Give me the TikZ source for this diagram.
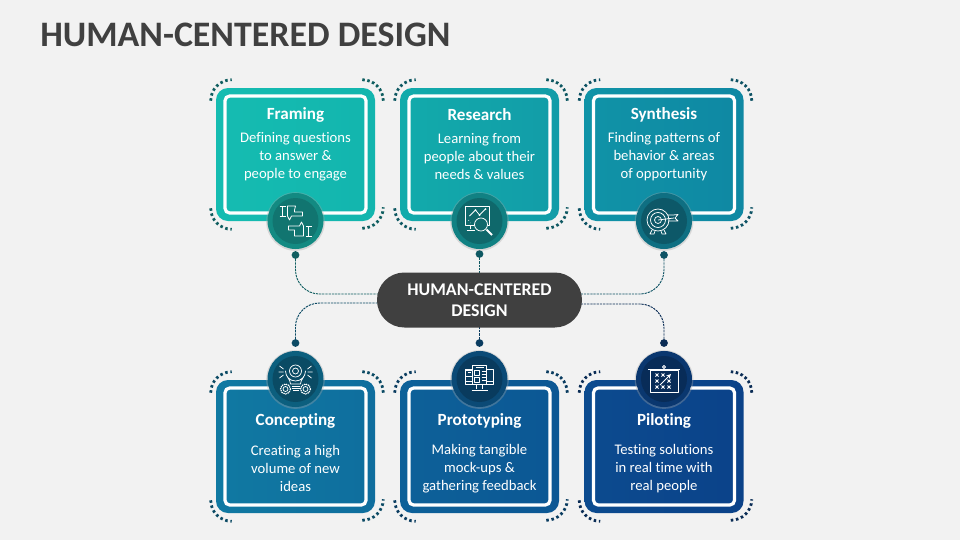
\documentclass[tikz,border=0pt]{standalone}
\usepackage{fontspec}
\setmainfont[Ligatures=NoCommon]{Carlito}
\definecolor{pagebg}{HTML}{F2F2F2}
\definecolor{titlegrey}{HTML}{404040}
\definecolor{hubgrey}{HTML}{404040}
\definecolor{frameL}{HTML}{15BCB1}\definecolor{frameR}{HTML}{13B5AE}
\definecolor{resL}{HTML}{12ABAB}\definecolor{resR}{HTML}{129CA8}
\definecolor{synL}{HTML}{1093A7}\definecolor{synR}{HTML}{0F88A3}
\definecolor{conL}{HTML}{1079A2}\definecolor{conR}{HTML}{0F6E9E}
\definecolor{proL}{HTML}{0D6199}\definecolor{proR}{HTML}{0C5794}
\definecolor{pilL}{HTML}{0C4B8F}\definecolor{pilR}{HTML}{0B4289}
\definecolor{frameO}{HTML}{138A82}\definecolor{frameI}{HTML}{117570}
\definecolor{resO}{HTML}{118183}\definecolor{resI}{HTML}{0F686B}
\definecolor{synO}{HTML}{0F6F82}\definecolor{synI}{HTML}{0D5868}
\definecolor{conO}{HTML}{0C5F7E}\definecolor{conI}{HTML}{0A4B64}
\definecolor{proO}{HTML}{0B4A76}\definecolor{proI}{HTML}{093B5E}
\definecolor{pilO}{HTML}{0A376F}\definecolor{pilI}{HTML}{082C58}
\definecolor{frameD}{HTML}{0F5E60}\definecolor{resD}{HTML}{0E5862}
\definecolor{synD}{HTML}{0D5264}\definecolor{conD}{HTML}{0B4A64}
\definecolor{proD}{HTML}{0A3C60}\definecolor{pilD}{HTML}{0A2C55}
\tikzset{
  boxouter/.style={minimum width=119.25pt,minimum height=99.75pt,inner sep=0pt,rounded corners=9pt,shading angle=90},
  boxinner/.style={minimum width=105.75pt,minimum height=87.75pt,inner sep=0pt,rounded corners=3.5pt,draw=white,line width=2.4pt},
  headtext/.style={text=white,font=\fontsize{12.8}{15}\selectfont\bfseries,inner sep=0pt},
  bodytext/.style={text=white,font=\fontsize{11}{13.5}\selectfont,align=center,inner sep=0pt},
  ringouter/.style={circle,minimum size=42pt,inner sep=0pt},
  ringinner/.style={circle,minimum size=34.5pt,inner sep=0pt},
  ringshade/.style={circle,inner sep=0pt,fill=black!35,opacity=.35,minimum size=44pt},
  linkdot/.style={circle,minimum size=5.8pt,inner sep=0pt},
  linkline/.style={line width=0.7pt,dash pattern=on 1.7pt off 0.7pt,rounded corners=18pt},
  cornerdots/.style={line width=2.1pt,dash pattern=on 1.9pt off 2.05pt},
  cornerfull/.style={line width=2.1pt,dash pattern=on 1.9pt off 1.9pt},
  iconline/.style={draw=white,line width=0.55pt,line join=round},
}
\newcommand{\cornerset}[2]{
  \draw[cornerdots,#2] ([xshift=-3.75pt,yshift=-9.75pt]#1.north west) arc (180:90:15.75pt);
  \draw[cornerfull,#2] ([xshift=-9.75pt,yshift=6pt]#1.north east) arc (90:0:15.75pt);
  \draw[cornerdots,#2] ([xshift=-3.75pt,yshift=9.75pt]#1.south west) arc (180:270:15.75pt);
  \draw[cornerdots,#2] ([xshift=-9.75pt,yshift=-5.25pt]#1.south east) arc (270:360:15.75pt);
}
\begin{document}
\begin{tikzpicture}[x=0.75pt,y=-0.75pt]
  \useasboundingbox[fill=pagebg] (0,0) rectangle (960,540);
  \node[anchor=west,inner sep=0pt,text=titlegrey,font=\fontsize{26.9}{30}\selectfont\bfseries] (title) at (40,35) {HUMAN-CENTERED DESIGN};
  \node[boxouter,left color=frameL,right color=frameR] (frame) at (295.5,154.5) {};
  \node[boxouter,left color=resL,right color=resR] (res) at (479.5,154.5) {};
  \node[boxouter,left color=synL,right color=synR] (syn) at (664,154.5) {};
  \node[boxouter,left color=conL,right color=conR] (con) at (295.5,446.5) {};
  \node[boxouter,left color=proL,right color=proR] (pro) at (479.5,446.5) {};
  \node[boxouter,left color=pilL,right color=pilR] (pil) at (664,446.5) {};
  \node[boxinner] (frameb) at (frame) {};
  \node[boxinner] (resb) at (res) {};
  \node[boxinner] (synb) at (syn) {};
  \node[boxinner] (conb) at (con) {};
  \node[boxinner] (prob) at (pro) {};
  \node[boxinner] (pilb) at (pil) {};
  \cornerset{frame}{frameD}
  \cornerset{res}{resD}
  \cornerset{syn}{synD}
  \cornerset{con}{conD}
  \cornerset{pro}{proD}
  \cornerset{pil}{pilD}
  \node[headtext] (framehead) at (295.5,115) {Framing};
  \node[headtext] (reshead) at (479.5,115) {Research};
  \node[headtext] (synhead) at (664,115) {Synthesis};
  \node[headtext] (conhead) at (295.5,421) {Concepting};
  \node[headtext] (prohead) at (479.5,421) {Prototyping};
  \node[headtext] (pilhead) at (664,421) {Piloting};
  \node[bodytext] (frametext) at (295.5,157) {Defining questions\\to answer \&\\people to engage};
  \node[bodytext] (restext) at (479.5,157) {Learning from\\people about their\\needs \& values};
  \node[bodytext] (syntext) at (664,157) {Finding patterns of\\behavior \& areas\\of opportunity};
  \node[bodytext] (context) at (295.5,468.5) {Creating a high\\volume of new\\ideas};
  \node[bodytext] (protext) at (479.5,468.5) {Making tangible\\mock-ups \&\\gathering feedback};
  \node[bodytext] (piltext) at (664,468.5) {Testing solutions\\in real time with\\real people};
  \node[linkdot,fill=frameD] (framedot) at (295.5,255) {};
  \node[linkdot,fill=resD] (resdot) at (479.5,254) {};
  \node[linkdot,fill=synD] (syndot) at (664,255) {};
  \node[linkdot,fill=conD] (condot) at (295.5,343) {};
  \node[linkdot,fill=proD] (prodot) at (479.5,343) {};
  \node[linkdot,fill=pilD] (pildot) at (664,343) {};
  \coordinate (hubnw) at (385,294);
  \coordinate (hubne) at (575,294);
  \coordinate (hubsw) at (385,303);
  \coordinate (hubse) at (575,304);
  \draw[linkline,frameD] (framedot) |- (hubnw);
  \draw[linkline,synD] (syndot) |- (hubne);
  \draw[linkline,conD] (condot) |- (hubsw);
  \draw[linkline,pilD] (pildot) |- (hubse);
  \draw[linkline,resD] (resdot) -- (479.5,280);
  \draw[linkline,proD] (prodot) -- (479.5,320);
  \node[rounded corners=20.5pt,minimum width=153.75pt,minimum height=41.25pt,inner sep=0pt,fill=hubgrey,text=white,align=center,font=\fontsize{13.4}{15.75}\selectfont\bfseries] (hub) at (479.5,300) {HUMAN-CENTERED\\DESIGN};
  \node[ringshade] (frameshade) at (295.5,221.5) {};
  \node[ringshade] (resshade) at (479.5,221.5) {};
  \node[ringshade] (synshade) at (664,221.5) {};
  \node[ringshade] (conshade) at (295.5,379.5) {};
  \node[ringshade] (proshade) at (479.5,379.5) {};
  \node[ringshade] (pilshade) at (664,379.5) {};
  \node[ringouter,fill=frameO] (framering) at (295.5,221) {};
  \node[ringouter,fill=resO] (resring) at (479.5,221) {};
  \node[ringouter,fill=synO] (synring) at (664,221) {};
  \node[ringouter,fill=conO] (conring) at (295.5,379) {};
  \node[ringouter,fill=proO] (proring) at (479.5,379) {};
  \node[ringouter,fill=pilO] (pilring) at (664,379) {};
  \node[ringinner,fill=frameI] (framecore) at (framering) {};
  \node[ringinner,fill=resI] (rescore) at (resring) {};
  \node[ringinner,fill=synI] (syncore) at (synring) {};
  \node[ringinner,fill=conI] (concore) at (conring) {};
  \node[ringinner,fill=proI] (procore) at (proring) {};
  \node[ringinner,fill=pilI] (pilcore) at (pilring) {};
  \begin{scope}[shift={(295.5,221)},iconline]
    \draw (-16,-15) -- (-10,-15) (-13,-15) -- (-13,-5) (-16,-5) -- (-10,-5);
    \draw (-8,-15) -- (0,-15) -- (-1,-11) -- (-1,-9) -- (7,-9) -- (7,-5) -- (-4,-5) -- (-6,-1) -- (-8,-5) -- cycle;
    \draw (16,15) -- (10,15) (13,15) -- (13,5) (16,5) -- (10,5);
    \draw (8,15) -- (-1,15) -- (-1,11) -- (-1,9) -- (-7,9) -- (-7,5) -- (4,5) -- (6,1) -- (8,5) -- cycle;
  \end{scope}
  \begin{scope}[shift={(479.5,221)},iconline]
    \draw (-14.5,-14.5) rectangle (10,4);
    \draw (-9,4) -- (-9,8) (-13,9) -- (-5,9);
    \draw (-10,-5) -- (-4,-11) -- (0,-6) -- (6,-12);
    \fill[white] (-4,-11) circle (1) (0,-6) circle (1) (6,-12) circle (1);
    \draw[dotted] (-11,-1) -- (-9,2);
    \draw[fill=resI] (1.5,3.5) circle (6.5);
    \draw[line width=1.5pt] (7,8.5) -- (12.5,14);
  \end{scope}
  \begin{scope}[shift={(664,221)},iconline]
    \draw (-6,-1) circle (11) (-6,-1) circle (7.5) (-6,-1) circle (3.5);
    \draw (-6,-1) -- (10,-3);
    \draw (4,-6) -- (9,-6) -- (14,-6.5) -- (11,-3) -- (14,0) -- (9,0) -- (4,0);
    \draw (-12,9) -- (-14,13) -- (-10,13) -- (-9,10);
    \draw (0,9) -- (2,13) -- (-2,13) -- (-3,10);
  \end{scope}
  \begin{scope}[shift={(295.5,379)},iconline]
    \draw (-5,5) .. controls (-5,0) and (-10,-2) .. (-10,-8) arc (180:0:10) .. controls (10,-2) and (5,0) .. (5,5) -- cycle;
    \draw (0,-8) circle (6) (0,-8) circle (3);
    \draw (-4,7) -- (4,7) (-4,9) -- (4,9) (-3,11) -- (3,11);
    \draw (-16,-13) -- (-12,-10) (-17,-7) -- (-12,-7) (-16,-1) -- (-12,-4);
    \draw (16,-13) -- (12,-10) (17,-7) -- (12,-7) (16,-1) -- (12,-4);
    \draw[dash pattern=on 1pt off 0.6pt,line width=0.9pt] (-10,10) circle (5) (10,10) circle (5);
    \draw (-10,10) circle (2.5) (10,10) circle (2.5);
  \end{scope}
  \begin{scope}[shift={(479.5,379)},iconline]
    \draw (-14,-10) rectangle (14,5);
    \draw (-14,2) -- (14,2) (-3,5) -- (-3,10) (3,5) -- (3,10) (-8,11) -- (8,11);
    \draw[fill=proI] (-7,-14) rectangle (7,5);
    \draw[fill=proI] (-14,-9) rectangle (-7,-3);
    \draw (-5,-9) rectangle (0,-4) (-5,-2) rectangle (0,3);
    \draw (2,-8) -- (6,-8) (2,-5) -- (6,-5) (2,-2) -- (6,-2) (2,1) -- (6,1);
    \draw (-4,-12) -- (4,-12) (-12,-7) -- (-9,-7);
  \end{scope}
  \begin{scope}[shift={(664,379)},iconline]
    \draw (0,-12) circle (1.5);
    \draw (-16,-9.5) -- (16,-9.5);
    \draw (-14,-9) rectangle (14,13);
    \draw[->,>=stealth] (-4,6) -- (7,-5);
    \draw[line width=0.7pt] (-7,-4) ++(-1.5,-1.5) -- ++(3,3) ++(0,-3) -- ++(-3,3);
    \draw[line width=0.7pt] (-1,-4) ++(-1.5,-1.5) -- ++(3,3) ++(0,-3) -- ++(-3,3);
    \draw[line width=0.7pt] (-7,2) ++(-1.5,-1.5) -- ++(3,3) ++(0,-3) -- ++(-3,3);
    \draw[line width=0.7pt] (-7,8) ++(-1.5,-1.5) -- ++(3,3) ++(0,-3) -- ++(-3,3);
    \draw[line width=0.7pt] (5,2) ++(-1.5,-1.5) -- ++(3,3) ++(0,-3) -- ++(-3,3);
    \draw[line width=0.7pt] (5,8) ++(-1.5,-1.5) -- ++(3,3) ++(0,-3) -- ++(-3,3);
    \draw[line width=0.7pt] (-1,8) ++(-1.5,-1.5) -- ++(3,3) ++(0,-3) -- ++(-3,3);
  \end{scope}
\end{tikzpicture}
\end{document}
